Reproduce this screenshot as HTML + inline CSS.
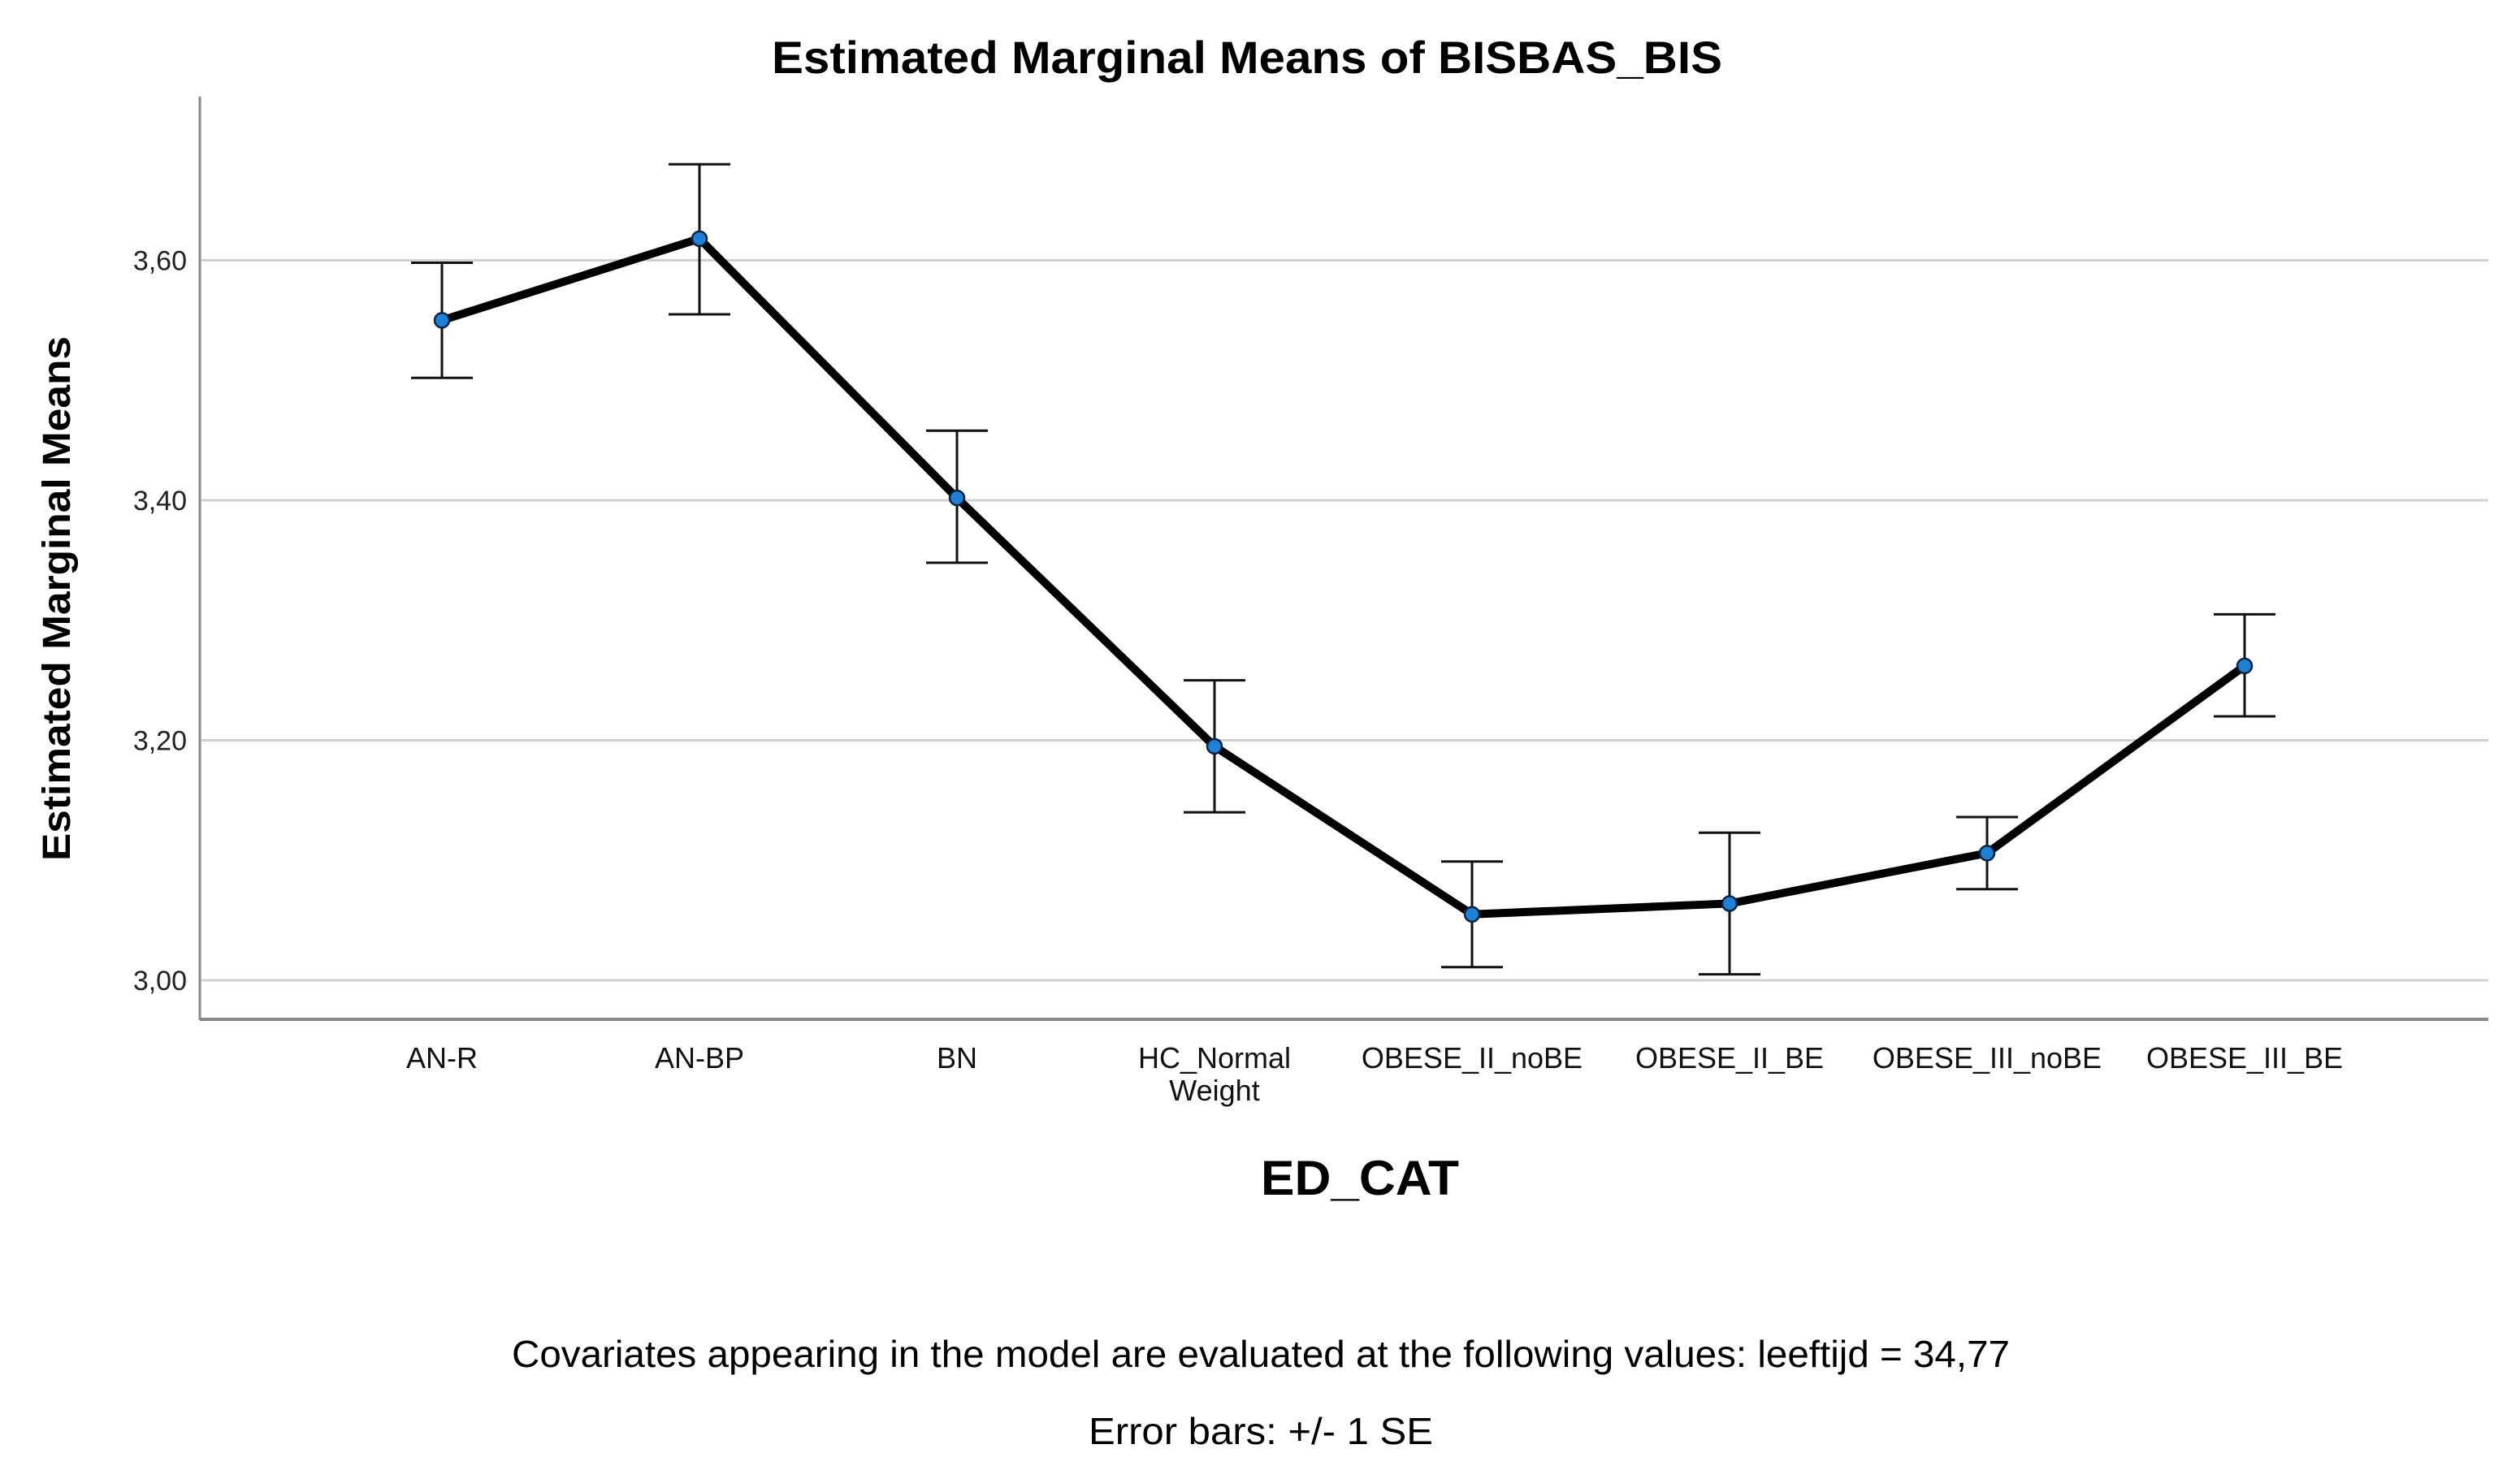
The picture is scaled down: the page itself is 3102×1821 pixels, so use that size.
<!DOCTYPE html>
<html><head><meta charset="utf-8"><style>
html,body{margin:0;padding:0;background:#fff;}
svg{display:block;font-family:"Liberation Sans",sans-serif;}
</style></head><body>
<svg id="chart" width="3102" height="1821" viewBox="0 0 3102 1821" xmlns="http://www.w3.org/2000/svg">
<rect width="3102" height="1821" fill="#fff"/>
<text x="1535" y="90" font-size="56" font-weight="bold" text-anchor="middle" textLength="1170" lengthAdjust="spacingAndGlyphs">Estimated Marginal Means of BISBAS_BIS</text>
<g id="grid"></g>
<g id="yticks"></g>
<line x1="246" y1="119" x2="246" y2="1256" stroke="#888" stroke-width="3"/>
<line x1="246" y1="1255" x2="3063" y2="1255" stroke="#888" stroke-width="4"/>
<g id="errs"></g>
<polyline id="line" fill="none" stroke="#000" stroke-width="10" stroke-linejoin="round"/>
<g id="pts"></g>
<g id="xticks"></g>
<text transform="translate(86,737) rotate(-90)" font-size="48" font-weight="bold" text-anchor="middle" textLength="646" lengthAdjust="spacingAndGlyphs">Estimated Marginal Means</text>
<text x="1674" y="1471" font-size="60" font-weight="bold" text-anchor="middle" textLength="244" lengthAdjust="spacingAndGlyphs">ED_CAT</text>
<text x="1552" y="1683" font-size="46" text-anchor="middle" textLength="1844" lengthAdjust="spacingAndGlyphs">Covariates appearing in the model are evaluated at the following values: leeftijd = 34,77</text>
<text x="1552" y="1778" font-size="46" text-anchor="middle" textLength="424" lengthAdjust="spacingAndGlyphs">Error bars: +/- 1 SE</text>
</svg>
<script>
const categories = [["AN-R"],["AN-BP"],["BN"],["HC_Normal","Weight"],["OBESE_II_noBE"],["OBESE_II_BE"],["OBESE_III_noBE"],["OBESE_III_BE"]];
const means = [3.550,3.618,3.402,3.195,3.055,3.064,3.106,3.262];
const upper = [3.598,3.680,3.458,3.250,3.099,3.123,3.136,3.305];
const lower = [3.502,3.555,3.348,3.140,3.011,3.005,3.076,3.220];
const yTicks = [3.00,3.20,3.40,3.60];
const yTickLabels = ["3,00","3,20","3,40","3,60"];

const NS="http://www.w3.org/2000/svg";
function y(v){return 1207-(v-3)/0.2*295.5;}
function x(i){return 544+i*317;}
function mk(tag,attrs,parent){const e=document.createElementNS(NS,tag);for(const k in attrs)e.setAttribute(k,attrs[k]);parent.appendChild(e);return e;}
const grid=document.getElementById('grid'),yt=document.getElementById('yticks'),errs=document.getElementById('errs'),pts=document.getElementById('pts'),xt=document.getElementById('xticks');
yTicks.forEach((t,i)=>{
  const g=mk('line',{x1:248,x2:3063,y1:y(t),y2:y(t),stroke:'#d2d2d2','stroke-width':3},grid);
  
  
  const l=mk('text',{x:230,y:y(t)+12,'font-size':34,'text-anchor':'end',fill:'#222'},yt);
  
  
  l.textContent=yTickLabels[i];
});
means.forEach((m,i)=>{
  const cx=x(i);
  const g=mk('g',{},errs);
  
  
  mk('line',{x1:cx,x2:cx,y1:y(upper[i]),y2:y(lower[i]),stroke:'#111','stroke-width':3},g);
  mk('line',{x1:cx-38,x2:cx+38,y1:y(upper[i]),y2:y(upper[i]),stroke:'#111','stroke-width':3},g);
  mk('line',{x1:cx-38,x2:cx+38,y1:y(lower[i]),y2:y(lower[i]),stroke:'#111','stroke-width':3},g);
  const c=mk('circle',{cx:cx,cy:y(m),r:9,fill:'#1f80d6',stroke:'#0a2440','stroke-width':2.5},pts);
  
  
  categories[i].forEach((s,j)=>{
    const t=mk('text',{x:cx,y:1315+j*40,'font-size':36,'text-anchor':'middle',fill:'#111'},xt);
    
    
    t.textContent=s;
  });
});
document.getElementById('line').setAttribute('points',means.map((m,i)=>x(i)+','+y(m)).join(' '));
</script>
</body></html>
